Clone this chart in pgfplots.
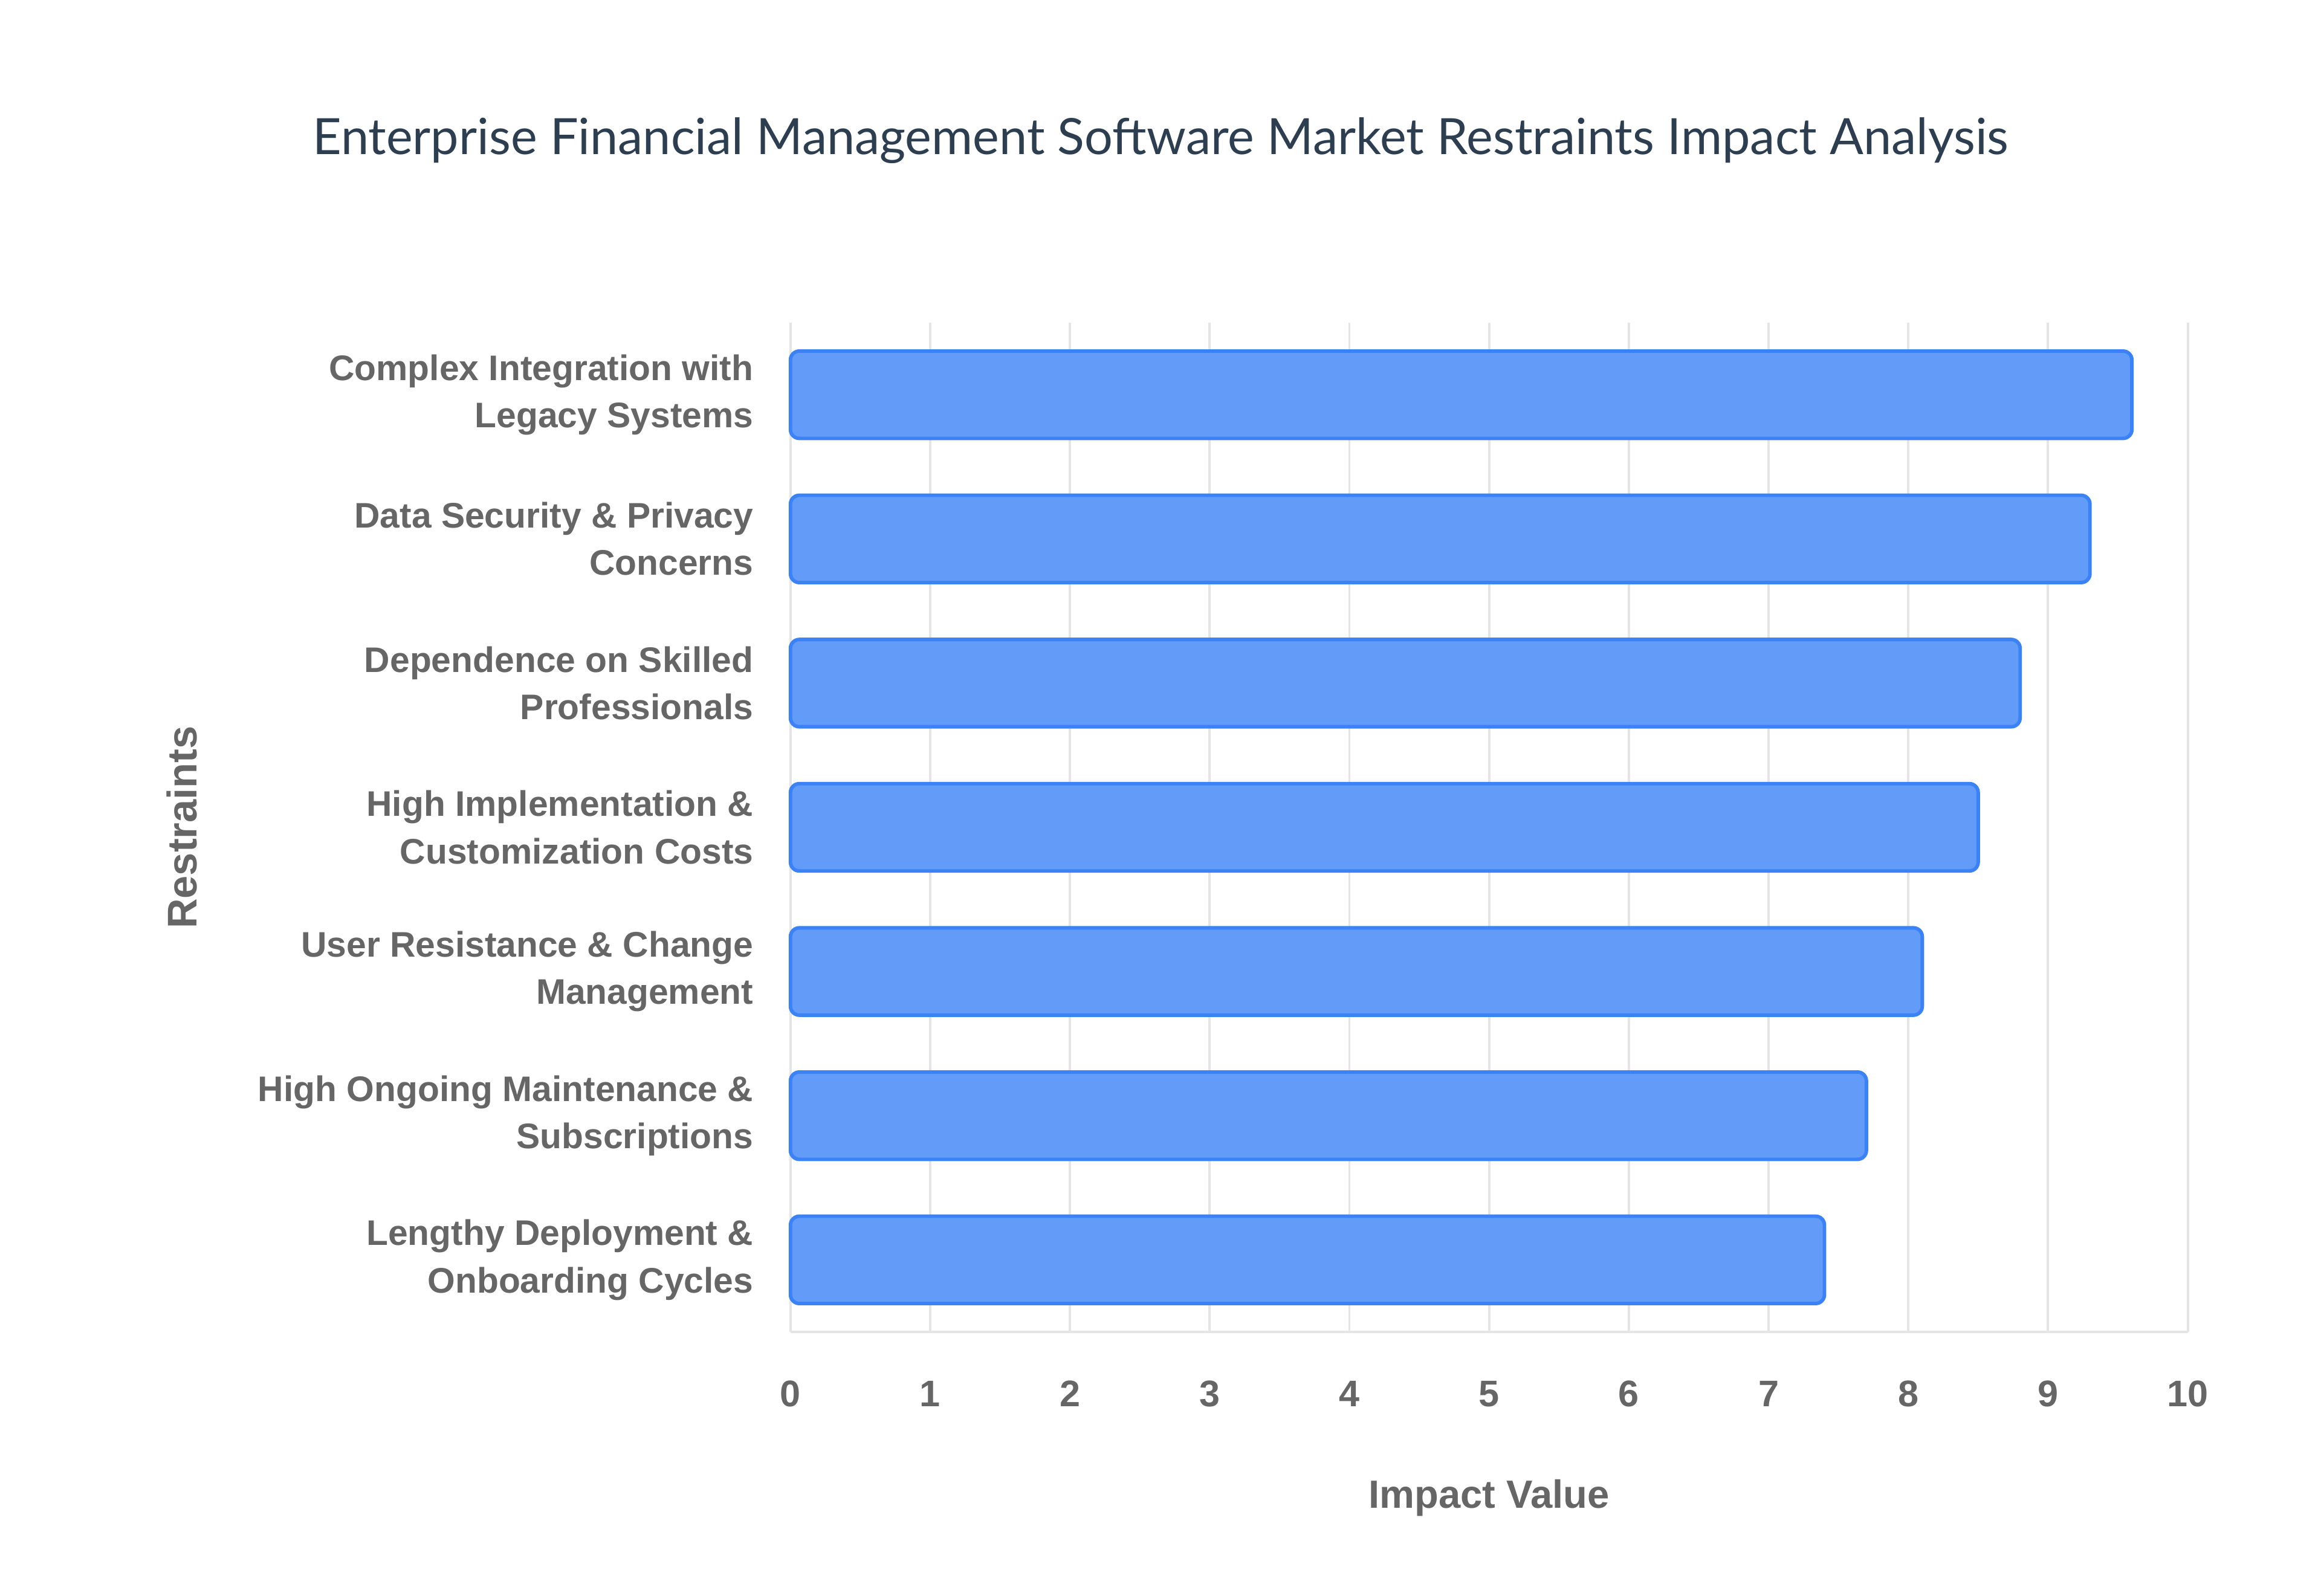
\documentclass[border=0pt]{standalone}
\usepackage{pgfplots}
\pgfplotsset{compat=1.18}
\usepackage{fontspec}
\setmainfont{Liberation Sans}
\newfontfamily\titlefont{Lato}
\definecolor{barfill}{RGB}{98,155,248}
\definecolor{barline}{RGB}{59,130,246}
\definecolor{labelgray}{RGB}{102,102,102}
\definecolor{titlecol}{RGB}{44,62,80}
\definecolor{gridgray}{RGB}{229,229,229}

\pgfplotstableread{
y val
6 9.6
5 9.3
4 8.8
3 8.5
2 8.1
1 7.7
0 7.4
}\restraints

\begin{document}
\begin{tikzpicture}
\useasboundingbox (0,0) rectangle (784pt,539pt);
\begin{axis}[
    at={(267pt,89pt)}, anchor=south west,
    scale only axis,
    width=472pt, height=341pt,
    xbar, bar width=29.5pt,
    xmin=0, xmax=10, ymin=-0.5, ymax=6.5,
    xtick={0,1,...,10},
    ytick={0,...,6},
    yticklabels={
      {Lengthy Deployment \&\\Onboarding Cycles},
      {High Ongoing Maintenance \&\\Subscriptions},
      {User Resistance \& Change\\Management},
      {High Implementation \&\\Customization Costs},
      {Dependence on Skilled\\Professionals},
      {Data Security \& Privacy\\Concerns},
      {Complex Integration with\\Legacy Systems}},
    axis x line*=bottom, axis y line*=left,
    axis line style={gridgray, line width=0.8pt, -},
    xmajorgrids, grid style={gridgray, line width=0.8pt},
    major tick length=5pt,
    xtick style={gridgray, line width=0.8pt},
    x tick label style={font=\fontsize{12.5}{14}\selectfont\bfseries, text=labelgray, yshift=-13pt},
    y tick label style={font=\fontsize{12}{16}\selectfont\bfseries, text=labelgray, align=right, xshift=-4pt},
    ytick style={draw=none},
    /pgf/number format/assume math mode=true,
    clip=false,
]
\addplot[fill=barfill, draw=barline, line width=1.2pt, rounded corners=3pt] table[x=val, y=y] {\restraints};
\end{axis}
\node[font=\titlefont\fontsize{16.9}{20}\selectfont, text=titlecol] at (392pt,491.5pt) {Enterprise Financial Management Software Market Restraints Impact Analysis};
\node[font=\fontsize{13.3}{16}\selectfont\bfseries, text=labelgray] at (503pt,33pt) {Impact Value};
\node[font=\fontsize{14}{16}\selectfont\bfseries, text=labelgray, rotate=90] at (61.5pt,259.5pt) {Restraints};
\end{tikzpicture}
\end{document}
